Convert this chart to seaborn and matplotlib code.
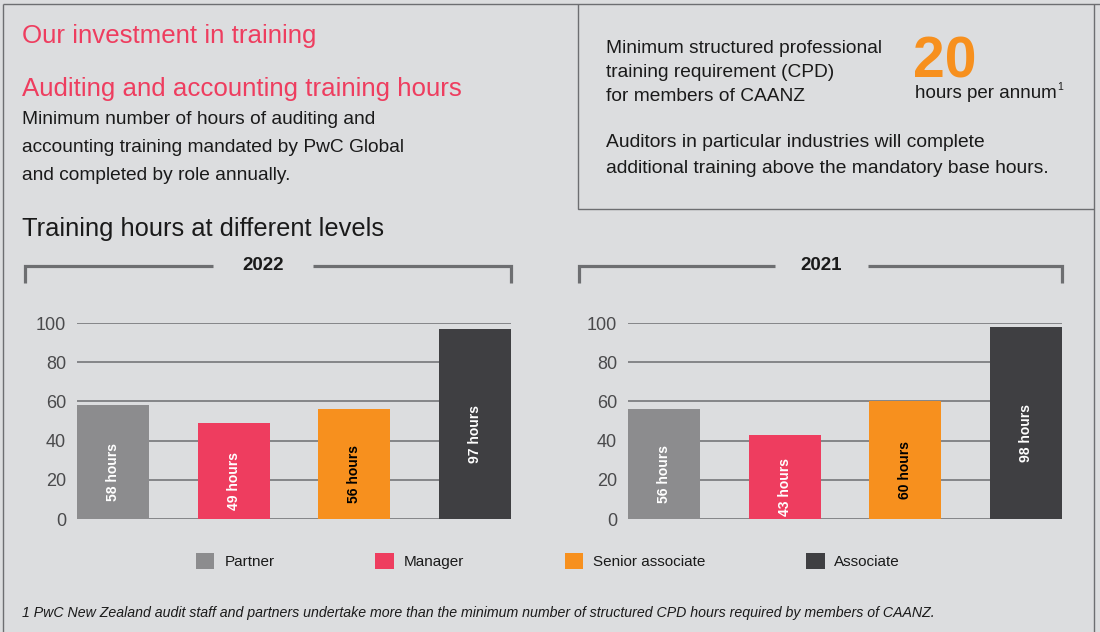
import seaborn as sns
import matplotlib.pyplot as plt
import pandas as pd
from matplotlib.patches import Patch
from matplotlib.lines import Line2D

roles = ["Partner", "Manager", "Senior associate", "Associate"]
hours_2022 = [58, 49, 56, 97]
hours_2021 = [56, 43, 60, 98]
years = ["2022", "2021"]
yticks = [0, 20, 40, 60, 80, 100]

colors = ["#8c8c8e", "#ee3d5f", "#f7901e", "#3f3f42"]
label_colors = ["white", "white", "black", "white"]
bg = "#dcdddf"
line_col = "#6d6e71"
red = "#ee3d5f"
orange = "#f7901e"
ink = "#1a1a1a"

sns.set_theme(style="white")
plt.rcParams["font.family"] = ["Liberation Sans", "DejaVu Sans"]

W, H = 1100, 632
fig = plt.figure(figsize=(11, 6.32), dpi=100, facecolor=bg)


def fx(x):
    return x / W


def fy(y):
    return 1 - y / H


def fig_line(xs, ys, lw, color=line_col):
    fig.add_artist(Line2D([fx(x) for x in xs], [fy(y) for y in ys],
                          color=color, lw=lw, solid_capstyle="butt",
                          solid_joinstyle="miter"))


# frame lines
fig_line([3, 1100], [4, 4], 1.0)
fig_line([3, 3], [4, 632], 1.0)
fig_line([1094, 1094], [4, 632], 1.0)
fig_line([578, 578, 1094], [4, 209, 209], 1.0)

# header texts
fig.text(fx(22), fy(43), "Our investment in training", color=red, fontsize=18.6, va="baseline")
fig.text(fx(22), fy(96), "Auditing and accounting training hours", color=red, fontsize=18.6, va="baseline")
body = ["Minimum number of hours of auditing and",
        "accounting training mandated by PwC Global",
        "and completed by role annually."]
for i, s in enumerate(body):
    fig.text(fx(22), fy(124 + 28 * i), s, color=ink, fontsize=13.8, va="baseline")

box = ["Minimum structured professional",
       "training requirement (CPD)",
       "for members of CAANZ"]
for i, s in enumerate(box):
    fig.text(fx(606), fy(53 + 24 * i), s, color=ink, fontsize=13.8, va="baseline")
fig.text(fx(913), fy(77), "20", color=orange, fontsize=41, fontweight="bold", va="baseline")
fig.text(fx(915), fy(98), "hours per annum", color=ink, fontsize=13.5, va="baseline")
fig.text(fx(1057), fy(90), "1", color=ink, fontsize=7.5, va="baseline")
fig.text(fx(606), fy(147), "Auditors in particular industries will complete", color=ink, fontsize=13.9, va="baseline")
fig.text(fx(606), fy(173), "additional training above the mandatory base hours.", color=ink, fontsize=13.9, va="baseline")

fig.text(fx(22), fy(236), "Training hours at different levels", color=ink, fontsize=18.4, va="baseline")

# two bar panels
panels = [(77, hours_2022, 25, 511, 213, 313),
          (628, hours_2021, 579, 1062, 775, 868)]
for (left, vals, bl, br, g1, g2), year in zip(panels, years):
    # bracket with year
    fig_line([bl, bl, g1], [283, 266, 266], 2.3)
    fig_line([g2, br, br], [266, 266, 283], 2.3)
    fig.text(fx((g1 + g2) / 2), fy(266), year, color=ink, fontsize=13.5,
             fontweight="bold", ha="center", va="center")

    ax = fig.add_axes([fx(left), fy(519), 434 / W, 196 / H])
    ax.set_facecolor("none")
    df = pd.DataFrame({"Role": roles, "Hours": vals})
    for t in yticks:
        ax.axhline(t, color=line_col, lw=1.1, zorder=0)
    sns.barplot(data=df, x="Role", y="Hours", hue="Role", palette=colors,
                width=0.595, saturation=1, legend=False, ax=ax, zorder=2,
                edgecolor="none", linewidth=0)
    for i, v in enumerate(vals):
        ax.text(i, v / 2 - 5, f"{v} hours", rotation=90, ha="center", va="center",
                fontsize=10, fontweight="bold", color=label_colors[i], zorder=3)
    ax.set_xlim(-0.2975, 3.2975)
    ax.set_ylim(0, 100)
    ax.set_yticks(yticks)
    ax.set_xticks([])
    ax.set(xlabel="", ylabel="")
    ax.tick_params(axis="y", length=0, pad=8, labelsize=13, labelcolor="#4a4a4c")
    sns.despine(ax=ax, left=True, bottom=True)

# legend
handles = [Patch(facecolor=c, edgecolor="none", label=r) for c, r in zip(colors, roles)]
fig.legend(handles=handles, loc="center left", bbox_to_anchor=(fx(196), fy(561)),
           ncol=4, frameon=False, fontsize=11, handlelength=1.2, handleheight=1.2,
           handletextpad=0.65, columnspacing=6.6, borderpad=0, borderaxespad=0,
           labelcolor=ink)

fig.text(fx(22), fy(617),
         "1 PwC New Zealand audit staff and partners undertake more than the minimum number "
         "of structured CPD hours required by members of CAANZ.",
         color=ink, fontsize=10.2, style="italic", va="baseline")

plt.savefig("out.png", dpi=100, facecolor=bg)
